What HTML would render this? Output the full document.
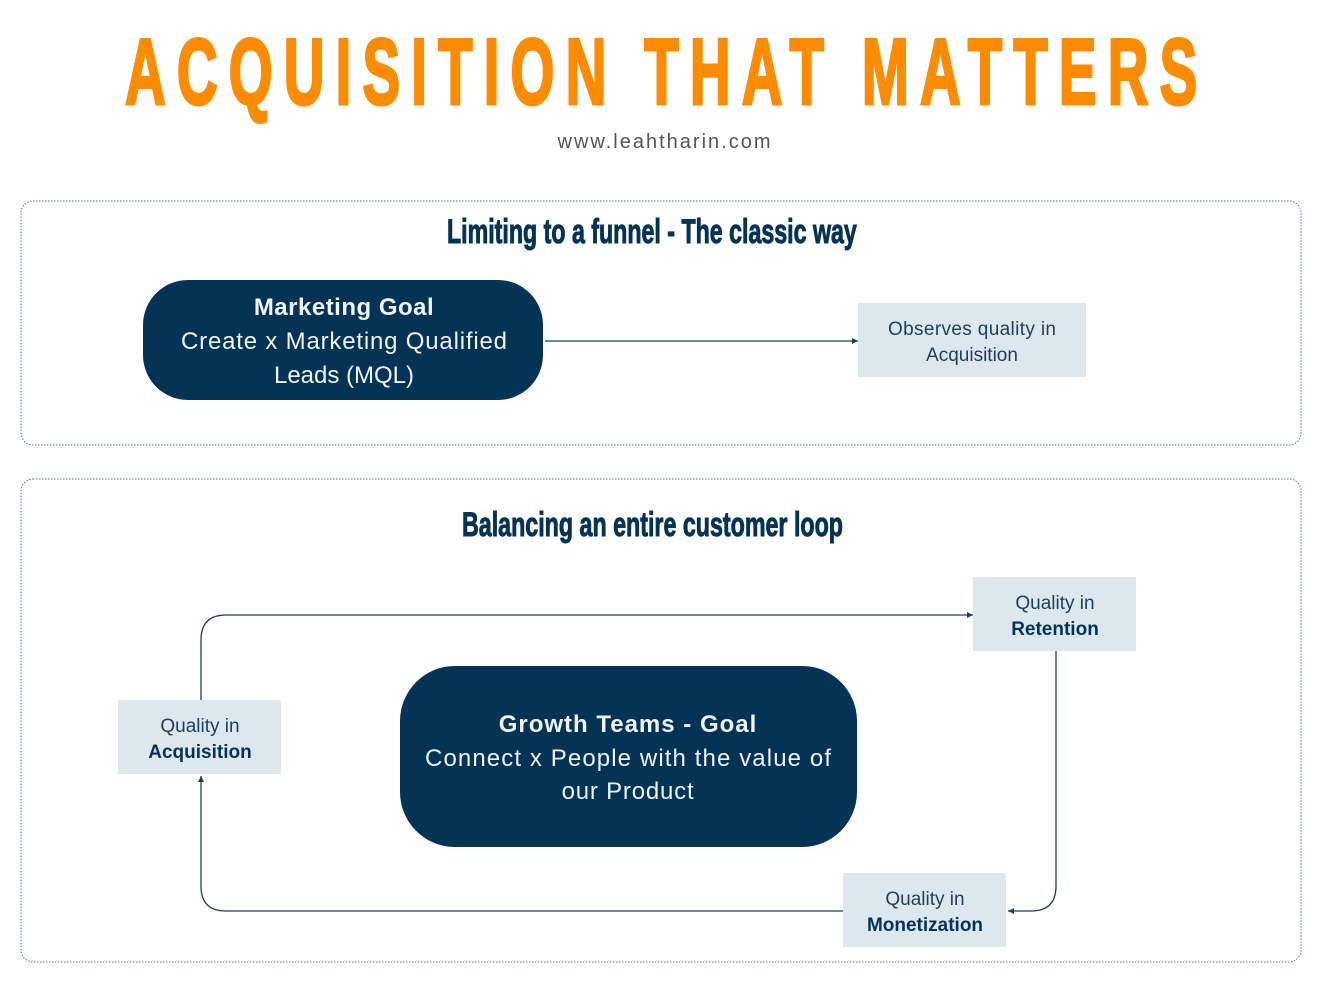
<!DOCTYPE html>
<html><head><meta charset="utf-8"><style>
html,body{margin:0;padding:0;background:#fff;}
svg{display:block;}
</style></head><body>
<svg width="1320" height="985" viewBox="0 0 1320 985" xmlns="http://www.w3.org/2000/svg">
<defs>
<marker id="ar" markerWidth="8" markerHeight="8" refX="6" refY="4" orient="auto" markerUnits="userSpaceOnUse">
<path d="M0,1 L6,4 L0,7 Z" fill="#1d3f5e"/>
</marker>
</defs>
<text transform="translate(125,104) scale(0.6,1)" font-family="Liberation Sans, sans-serif" font-weight="bold" font-size="94" fill="#ff8c00" stroke="#ff8c00" stroke-width="3" textLength="1787" lengthAdjust="spacing">ACQUISITION THAT MATTERS</text>
<text x="665" y="148" text-anchor="middle" font-family="Liberation Sans, sans-serif" font-size="20" fill="#555" letter-spacing="2">www.leahtharin.com</text>

<rect x="21" y="201" width="1280" height="244" rx="12" fill="none" stroke="#4a78a0" stroke-width="1" stroke-dasharray="1.5,1.5"/>
<rect x="21" y="479" width="1280" height="483" rx="12" fill="none" stroke="#4a78a0" stroke-width="1" stroke-dasharray="1.5,1.5"/>

<text transform="translate(447,243) scale(0.6,1)" font-family="Liberation Sans, sans-serif" font-weight="bold" font-size="34" fill="#043356" stroke="#043356" stroke-width="1" textLength="683" lengthAdjust="spacingAndGlyphs">Limiting to a funnel - The classic way</text>
<text transform="translate(462,536) scale(0.6,1)" font-family="Liberation Sans, sans-serif" font-weight="bold" font-size="34" fill="#043356" stroke="#043356" stroke-width="1" textLength="635" lengthAdjust="spacingAndGlyphs">Balancing an entire customer loop</text>

<rect x="143" y="280" width="400" height="120" rx="45" fill="#043356"/>
<g font-family="Liberation Sans, sans-serif" fill="#eef3f7" text-anchor="middle" font-size="24">
<text x="344" y="315" font-weight="bold" letter-spacing="0.5">Marketing Goal</text>
<text x="344" y="349" textLength="326" lengthAdjust="spacing">Create x Marketing Qualified</text>
<text x="344" y="383">Leads (MQL)</text>
</g>
<line x1="545" y1="341" x2="858" y2="341" stroke="#1d3f5e" stroke-width="1.3" marker-end="url(#ar)"/>
<rect x="858" y="303" width="228" height="74" fill="#dde7ee"/>
<g font-family="Liberation Sans, sans-serif" fill="#1d3f5e" text-anchor="middle" font-size="19">
<text x="972" y="335" textLength="168" lengthAdjust="spacing">Observes quality in</text>
<text x="972" y="361">Acquisition</text>
</g>

<rect x="400" y="666" width="457" height="181" rx="55" fill="#043356"/>
<g font-family="Liberation Sans, sans-serif" fill="#eef3f7" text-anchor="middle" font-size="24">
<text x="628" y="732" font-weight="bold" letter-spacing="1">Growth Teams - Goal</text>
<text x="628" y="766" textLength="406" lengthAdjust="spacing">Connect x People with the value of</text>
<text x="628" y="799" letter-spacing="0.8">our Product</text>
</g>

<g fill="none" stroke="#1d3f5e" stroke-width="1.3">
<path d="M201,700 L201,640 Q201,615 226,615 L973,615" marker-end="url(#ar)"/>
<path d="M1056,651 L1056,886 Q1056,911 1031,911 L1008,911" marker-end="url(#ar)"/>
<path d="M843,911 L226,911 Q201,911 201,886 L201,776" marker-end="url(#ar)"/>
</g>

<rect x="973" y="577" width="163" height="74" fill="#dde7ee"/>
<rect x="118" y="700" width="163" height="74" fill="#dde7ee"/>
<rect x="843" y="873" width="163" height="74" fill="#dde7ee"/>
<g font-family="Liberation Sans, sans-serif" fill="#1d3f5e" text-anchor="middle" font-size="19">
<text x="1055" y="609">Quality in</text>
<text x="1055" y="635" font-weight="bold" fill="#043356">Retention</text>
<text x="200" y="732">Quality in</text>
<text x="200" y="758" font-weight="bold" fill="#043356">Acquisition</text>
<text x="925" y="905">Quality in</text>
<text x="925" y="931" font-weight="bold" fill="#043356">Monetization</text>
</g>
</svg>
</body></html>
